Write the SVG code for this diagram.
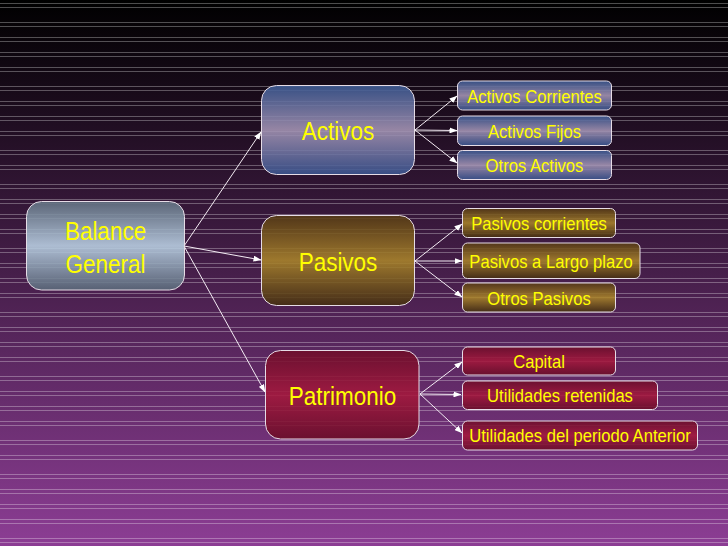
<svg xmlns="http://www.w3.org/2000/svg" width="728" height="546" viewBox="0 0 728 546">
<defs>
<linearGradient id="bg" x1="0" y1="0" x2="0" y2="1">
<stop offset="0" stop-color="#000000"/>
<stop offset="1" stop-color="#8c3d94"/>
</linearGradient>
<linearGradient id="gBal" x1="0" y1="0" x2="0" y2="1">
<stop offset="0" stop-color="#617181"/>
<stop offset="0.5" stop-color="#bcd3e6"/>
<stop offset="1" stop-color="#596979"/>
</linearGradient>
<linearGradient id="gAct" x1="0" y1="0" x2="0" y2="1">
<stop offset="0" stop-color="#3c5a94"/>
<stop offset="0.5" stop-color="#a696b6"/>
<stop offset="1" stop-color="#3a5590"/>
</linearGradient>
<linearGradient id="gPas" x1="0" y1="0" x2="0" y2="1">
<stop offset="0" stop-color="#553a14"/>
<stop offset="0.5" stop-color="#aa852a"/>
<stop offset="1" stop-color="#432e10"/>
</linearGradient>
<linearGradient id="gPat" x1="0" y1="0" x2="0" y2="1">
<stop offset="0" stop-color="#6d0d29"/>
<stop offset="0.5" stop-color="#a5183c"/>
<stop offset="1" stop-color="#6a0c26"/>
</linearGradient>
<marker id="arr" markerUnits="userSpaceOnUse" markerWidth="8" markerHeight="6" refX="7.5" refY="3" orient="auto">
<path d="M0,0 L8,3 L0,6 z" fill="#ffffff"/>
</marker>
<style>
.big{font-family:"Liberation Sans",Arial,sans-serif;font-size:25px;fill:#ffff00;text-anchor:middle}
.sm{font-family:"Liberation Sans",Arial,sans-serif;font-size:17.5px;fill:#ffff00;text-anchor:middle}
.bbox{stroke:#e6dce6;stroke-width:1;fill-opacity:0.88}
.sbox{stroke:#e6dce6;stroke-width:1;fill-opacity:0.88}
.conn line{stroke:#f4ecf4;stroke-width:1;marker-end:url(#arr)}
</style>
</defs>
<g id="background">
<rect x="0" y="0" width="728" height="546" fill="url(#bg)"/>
<path stroke="#ffffff" stroke-opacity="0.3" stroke-width="1" fill="none" d="M0 3.5H728M0 7.5H728M0 22.5H728M0 26.5H728M0 37.5H728M0 41.5H728M0 52.5H728M0 56.5H728M0 67.5H728M0 71.5H728M0 86.5H728M0 90.5H728M0 101.5H728M0 105.5H728M0 116.5H728M0 120.5H728M0 131.5H728M0 135.5H728M0 150.5H728M0 154.5H728M0 165.5H728M0 169.5H728M0 184.5H728M0 188.5H728M0 199.5H728M0 203.5H728M0 214.5H728M0 218.5H728M0 229.5H728M0 233.5H728M0 248.5H728M0 252.5H728M0 263.5H728M0 267.5H728M0 278.5H728M0 282.5H728M0 293.5H728M0 297.5H728M0 312.5H728M0 316.5H728M0 327.5H728M0 331.5H728M0 342.5H728M0 346.5H728M0 357.5H728M0 361.5H728M0 376.5H728M0 380.5H728M0 391.5H728M0 395.5H728M0 406.5H728M0 410.5H728M0 421.5H728M0 425.5H728M0 440.5H728M0 444.5H728M0 455.5H728M0 459.5H728M0 474.5H728M0 478.5H728M0 489.5H728M0 493.5H728M0 504.5H728M0 508.5H728M0 519.5H728M0 523.5H728M0 538.5H728M0 542.5H728"/>
</g>
<g id="connectors" class="conn">
<line x1="184" y1="246" x2="261" y2="132"/>
<line x1="184" y1="246" x2="261" y2="260"/>
<line x1="184" y1="246" x2="265" y2="392"/>
<line x1="415" y1="130" x2="457" y2="96"/>
<line x1="415" y1="130" x2="457" y2="130.5"/>
<line x1="415" y1="130" x2="457" y2="163"/>
<line x1="415" y1="261" x2="462" y2="224"/>
<line x1="415" y1="261" x2="462" y2="261"/>
<line x1="415" y1="261" x2="462" y2="297"/>
<line x1="420" y1="394" x2="462" y2="362"/>
<line x1="420" y1="394" x2="461" y2="394.5"/>
<line x1="420" y1="394" x2="462" y2="433"/>
</g>
<g id="balance-general">
<rect class="bbox" x="26.5" y="201.5" width="158" height="88.5" rx="15" fill="url(#gBal)"/>
<text class="big" transform="translate(105.5 239.5) scale(0.9 1)">Balance</text>
<text class="big" transform="translate(105.5 273) scale(0.9 1)">General</text>
</g>
<g id="activos">
<rect class="bbox" x="261.5" y="85.5" width="153" height="89" rx="15" fill="url(#gAct)"/>
<text class="big" transform="translate(338 140) scale(0.9 1)">Activos</text>
</g>
<g id="pasivos">
<rect class="bbox" x="261.5" y="215.5" width="153" height="90" rx="15" fill="url(#gPas)"/>
<text class="big" transform="translate(338 270.5) scale(0.9 1)">Pasivos</text>
</g>
<g id="patrimonio">
<rect class="bbox" x="265.5" y="350.5" width="153.5" height="88.5" rx="15" fill="url(#gPat)"/>
<text class="big" transform="translate(342.5 405) scale(0.9 1)">Patrimonio</text>
</g>
<g id="activos-corrientes">
<rect class="sbox" x="457.5" y="81" width="154" height="29" rx="5" fill="url(#gAct)"/>
<text class="sm" transform="translate(534.5 102.5) scale(0.95 1)">Activos Corrientes</text>
</g>
<g id="activos-fijos">
<rect class="sbox" x="457.5" y="116" width="154" height="29.5" rx="5" fill="url(#gAct)"/>
<text class="sm" transform="translate(534.5 137.5) scale(0.95 1)">Activos Fijos</text>
</g>
<g id="otros-activos">
<rect class="sbox" x="457.5" y="150.5" width="154" height="29" rx="5" fill="url(#gAct)"/>
<text class="sm" transform="translate(534.5 172) scale(0.95 1)">Otros Activos</text>
</g>
<g id="pasivos-corrientes">
<rect class="sbox" x="462.5" y="208.5" width="153" height="29" rx="5" fill="url(#gPas)"/>
<text class="sm" transform="translate(539 230) scale(0.95 1)">Pasivos corrientes</text>
</g>
<g id="pasivos-largo-plazo">
<rect class="sbox" x="462.5" y="243" width="177.5" height="35.5" rx="5" fill="url(#gPas)"/>
<text class="sm" transform="translate(551 267.5) scale(0.95 1)">Pasivos a Largo plazo</text>
</g>
<g id="otros-pasivos">
<rect class="sbox" x="462.5" y="283" width="153" height="29" rx="5" fill="url(#gPas)"/>
<text class="sm" transform="translate(539 304.5) scale(0.95 1)">Otros Pasivos</text>
</g>
<g id="capital">
<rect class="sbox" x="462.5" y="347" width="153" height="28" rx="5" fill="url(#gPat)"/>
<text class="sm" transform="translate(539 368.3) scale(0.95 1)">Capital</text>
</g>
<g id="utilidades-retenidas">
<rect class="sbox" x="462.5" y="381" width="195" height="28.5" rx="5" fill="url(#gPat)"/>
<text class="sm" transform="translate(560 402.3) scale(0.95 1)">Utilidades retenidas</text>
</g>
<g id="utilidades-periodo-anterior">
<rect class="sbox" x="462.5" y="421" width="235" height="29" rx="5" fill="url(#gPat)"/>
<text class="sm" transform="translate(580 442) scale(0.95 1)">Utilidades del periodo Anterior</text>
</g>
</svg>
